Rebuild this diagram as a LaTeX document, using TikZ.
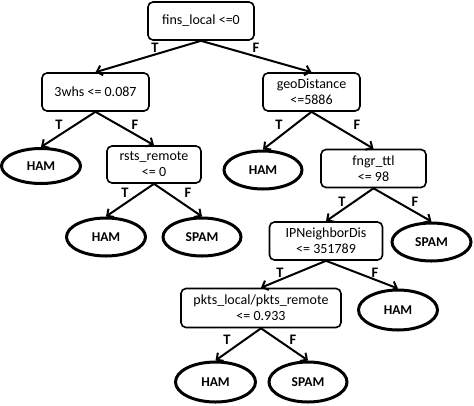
\documentclass[tikz,border=0pt]{standalone}
\usepackage{fontspec}
\setmainfont{Carlito}
\usetikzlibrary{arrows.meta,shapes.geometric}
\tikzset{
  test/.style={draw, line width=1.6pt, rounded corners=5pt, align=center, font=\fontsize{14}{16}\selectfont, inner sep=0pt},
  leaf/.style={draw, ellipse, line width=3pt, inner sep=0pt, font=\bfseries\fontsize{13.5}{15}\selectfont},
  edge/.style={line width=2pt, -{Straight Barb[length=5pt,width=10pt,line width=2pt]}},
  lab/.style={font=\bfseries\fontsize{14.5}{15}\selectfont, inner sep=0pt}
}
\begin{document}
\begin{tikzpicture}[x=1pt,y=-1pt]
\useasboundingbox (0,0) rectangle (474,405);
% tests
\node[test, minimum width=106pt, minimum height=38pt] (root) at (201,21) {fins\_local <=0};
\node[test, minimum width=107pt, minimum height=38pt] (whs) at (95.5,92) {3whs <= 0.087};
\node[test, minimum width=97pt, minimum height=38pt] (geo) at (311.5,92) {geoDistance\\<=5886};
\node[test, minimum width=94pt, minimum height=37pt] (rsts) at (154,164.5) {rsts\_remote\\<= 0};
\node[test, minimum width=105pt, minimum height=38pt] (fngr) at (373.5,168.5) {fngr\_ttl\\<= 98};
\node[test, minimum width=113pt, minimum height=38pt] (ipn) at (326,241) {IPNeighborDis\\<= 351789};
\node[test, minimum width=160pt, minimum height=39pt] (pkts) at (261,308) {pkts\_local/pkts\_remote\\<= 0.933};
% leaves
\node[leaf, minimum width=79pt, minimum height=35pt] (h1) at (41,166) {HAM};
\node[leaf, minimum width=78pt, minimum height=38pt] (h2) at (263,170) {HAM};
\node[leaf, minimum width=79pt, minimum height=38pt] (h3) at (106,237) {HAM};
\node[leaf, minimum width=78pt, minimum height=38pt] (s1) at (202,237) {SPAM};
\node[leaf, minimum width=79pt, minimum height=38pt] (s2) at (431.5,242) {SPAM};
\node[leaf, minimum width=79pt, minimum height=40pt] (h4) at (398,310) {HAM};
\node[leaf, minimum width=80pt, minimum height=40pt] (h5) at (215.5,382) {HAM};
\node[leaf, minimum width=78pt, minimum height=40pt] (s3) at (308,382) {SPAM};
% edges
\draw[edge] (root.south) -- (whs.north);
\draw[edge] (root.south) -- (geo.north);
\draw[edge] (whs.south) -- (h1.north);
\draw[edge] (whs.south) -- (rsts.north);
\draw[edge] (geo.south) -- (h2.north);
\draw[edge] (geo.south) -- (fngr.north);
\draw[edge] (rsts.south) -- (h3.north);
\draw[edge] (rsts.south) -- (s1.north);
\draw[edge] (fngr.south) -- (ipn.north);
\draw[edge] (fngr.south) -- (s2.north);
\draw[edge] (ipn.south) -- (pkts.north);
\draw[edge] (ipn.south) -- (h4.north);
\draw[edge] (pkts.south) -- (h5.north);
\draw[edge] (pkts.south) -- (s3.north);
% labels
\node[lab] (l1) at (155,48) {T};
\node[lab] (l2) at (256,48) {F};
\node[lab] (l3) at (59,125) {T};
\node[lab] (l4) at (135,125) {F};
\node[lab] (l5) at (279,125) {T};
\node[lab] (l6) at (357,125) {F};
\node[lab] (l7) at (125,193) {T};
\node[lab] (l8) at (188,193) {F};
\node[lab] (l9) at (342,202) {T};
\node[lab] (l10) at (415,202) {F};
\node[lab] (l11) at (280,273) {T};
\node[lab] (l12) at (375,273) {F};
\node[lab] (l13) at (227,340) {T};
\node[lab] (l14) at (293,340) {F};
\end{tikzpicture}
\end{document}
